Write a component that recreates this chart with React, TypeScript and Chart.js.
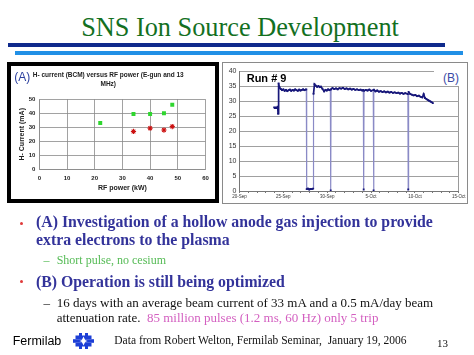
import React, { useEffect, useRef } from "react";
import { Chart, registerables } from "chart.js";

Chart.register(...registerables);

// ---- Chart (A): H- current vs RF power ----
const rfPowerGreen = [22, 34, 40, 45, 48];
const currentGreen = [33, 39.5, 39.5, 40, 46];
const rfPowerRed = [34, 40, 45, 48];
const currentRed = [27, 29.3, 28, 30.5];

// ---- Chart (B): Run # 9, beam current over days since 20-Sep ----
const runDay = [
  3.95, 4.05, 4.15, 4.25, 4.35, 4.4, 4.46,
  4.55, 4.7, 4.85, 5.0, 5.15, 5.3, 5.45, 5.6, 5.75, 5.9, 6.05, 6.2, 6.35, 6.5, 6.65, 6.8, 6.95, 7.1, 7.25, 7.4, 7.55, 7.62,
  7.66, 7.8, 7.95, 8.1, 8.25, 8.4,
  8.44, 8.55, 8.7, 8.85, 9.0, 9.15, 9.28, 9.45, 9.65, 9.8, 9.95, 10.1, 10.25, 10.36,
  10.4,
  10.44, 10.6, 10.8, 11.0, 11.2, 11.4, 11.6, 11.8, 12.0, 12.2, 12.4, 12.6, 12.8, 13.0, 13.2, 13.4, 13.6, 13.8, 14.0, 14.12,
  14.16,
  14.2, 14.4, 14.6, 14.8, 15.0, 15.25,
  15.29,
  15.33, 15.5, 15.7, 15.9, 16.1, 16.3, 16.5, 16.7, 16.9, 17.1, 17.3, 17.5, 17.7, 17.9, 18.1, 18.3, 18.5, 18.7, 18.9, 19.2,
  19.24,
  19.28, 19.45, 19.65, 19.85, 20.05, 20.25, 20.45, 20.65, 20.85, 21.0, 21.15, 21.3, 21.45, 21.6, 21.75, 21.9, 22.05,
];
const runCurrent = [
  27.9, 27.6, 27.8, 27.7, 28.1, 25.8, 35.9,
  34.6, 34.0, 33.6, 33.9, 33.4, 33.7, 33.3, 33.6, 33.8, 33.4, 33.7, 33.5, 33.9, 33.6, 33.4, 33.8, 33.5, 33.7, 33.9, 33.6, 33.8, 33.9,
  0.6, 0.8, 0.5, 0.7, 0.6, 0.8,
  32.4, 35.6, 35.1, 34.7, 35.0, 34.6, 34.8, 34.1, 33.2, 33.7, 33.5, 33.9, 33.6, 33.8,
  0.2,
  33.9, 34.3, 34.0, 34.2, 33.9, 34.3, 34.1, 34.4, 34.0, 34.2, 33.9, 34.1, 33.8, 34.0, 33.7, 33.9, 33.6, 33.8, 33.5, 33.7,
  0.5,
  33.4, 33.7, 33.5, 33.8, 33.4, 33.6,
  0.2,
  33.8, 33.2, 33.5, 33.1, 33.3, 33.0, 33.2, 32.9, 33.1, 32.8, 33.0, 32.7, 32.9, 32.6, 32.8, 32.5, 32.7, 32.4, 32.6, 32.3,
  0.5,
  33.0, 32.4, 32.1, 31.9, 32.0, 31.6, 31.8, 31.4, 31.2, 32.3, 31.0, 30.7, 30.4, 30.1, 29.9, 29.6, 29.3,
];
const dateLabels = ["20-Sep", "25-Sep", "30-Sep", "5-Oct", "10-Oct", "15-Oct"];

const SANS = "'Liberation Sans', Arial, sans-serif";
const SERIF = "'Liberation Serif', 'Times New Roman', serif";

export default function App() {
  const refA = useRef<HTMLCanvasElement>(null);
  const refB = useRef<HTMLCanvasElement>(null);

  useEffect(() => {
    Chart.defaults.font.family = SANS;
    const chartA = new Chart(refA.current!, {
      type: "scatter",
      data: {
        datasets: [
          {
            label: "BCM",
            data: rfPowerGreen.map((x, i) => ({ x, y: currentGreen[i] })),
            pointStyle: "rect",
            pointRadius: 2.8,
            backgroundColor: "#2fd62f",
            borderColor: "#2fd62f",
            borderWidth: 0,
          },
          {
            label: "Red",
            data: rfPowerRed.map((x, i) => ({ x, y: currentRed[i] })),
            pointStyle: "star",
            pointRadius: 2.6,
            backgroundColor: "#cc1111",
            borderColor: "#cc1111",
            borderWidth: 1.1,
          },
        ],
      },
      options: {
        responsive: false,
        animation: false,
        devicePixelRatio: 1,
        layout: { padding: { left: 0, right: 9.5, top: 0, bottom: 0 } },
        plugins: {
          legend: { display: false },
          tooltip: { enabled: false },
          title: {
            display: true,
            text: ["H- current (BCM) versus RF power (E-gun and 13", "MHz)"],
            color: "#222",
            font: { size: 6.5, weight: "bold", family: SANS, lineHeight: 1.25 },
            padding: { top: 5.6, bottom: 11.4 },
          },
        },
        scales: {
          x: {
            type: "linear",
            min: 0,
            max: 60,
            afterFit: (s: any) => { s.height = 29.7; },
            ticks: { stepSize: 10, color: "#222", font: { size: 6, weight: "bold" }, padding: 5, maxRotation: 0 },
            grid: { color: "#8a8a8a", lineWidth: 0.8, drawTicks: false },
            border: { color: "#8a8a8a", width: 0.8 },
            title: {
              display: true,
              text: "RF power (kW)",
              color: "#222",
              font: { size: 7, weight: "bold" },
              padding: { top: 0.3, bottom: 7 },
            },
          },
          y: {
            min: 0,
            max: 50,
            afterFit: (s: any) => { s.width = 28.3; },
            ticks: { stepSize: 10, color: "#222", font: { size: 6, weight: "bold" }, padding: 4 },
            grid: { color: "#8a8a8a", lineWidth: 0.8, drawTicks: false },
            border: { color: "#8a8a8a", width: 0.8 },
            title: {
              display: true,
              text: "H- Current (mA)",
              color: "#222",
              font: { size: 7, weight: "bold" },
              padding: { top: 6.5, bottom: 2 },
            },
          },
        },
      },
    });

    const NAVY = "#17177a";
    const SPIKE = "#8a8ac6";
    const chartB = new Chart(refB.current!, {
      type: "line",
      data: {
        datasets: [
          {
            label: "Run # 9",
            data: runDay.map((x, i) => ({ x, y: runCurrent[i] })),
            borderColor: NAVY,
            backgroundColor: NAVY,
            borderWidth: 1.7,
            pointRadius: 1.3,
            pointStyle: "rect",
            pointBorderWidth: 0,
            tension: 0,
            segment: {
              borderColor: (c: any) => (Math.abs(c.p0.parsed.y - c.p1.parsed.y) > 15 ? SPIKE : NAVY),
              borderWidth: (c: any) => (Math.abs(c.p0.parsed.y - c.p1.parsed.y) > 15 ? 1.2 : 1.7),
            },
          },
        ],
      },
      options: {
        responsive: false,
        animation: false,
        devicePixelRatio: 1,
        layout: { padding: { left: 0, right: 7, top: 8, bottom: 0 } },
        plugins: { legend: { display: false }, tooltip: { enabled: false }, title: { display: false } },
        scales: {
          x: {
            type: "linear",
            min: 0,
            max: 25,
            afterFit: (s: any) => { s.height = 12; },
            ticks: {
              stepSize: 1,
              autoSkip: false,
              maxRotation: 0,
              color: "#333",
              font: { size: 4.5 },
              padding: 1.5,
              callback: (v: any) => (Number(v) % 5 === 0 ? dateLabels[Number(v) / 5] : ""),
            },
            grid: {
              color: (c: any) => (c.tick && c.tick.value === 25 ? "#9a9a9a" : "rgba(0,0,0,0)"),
              tickColor: "#777",
              tickLength: 2,
              lineWidth: 1,
            },
            border: { color: "#777", width: 1 },
          },
          y: {
            min: 0,
            max: 40,
            afterFit: (s: any) => { s.width = 16.5; },
            ticks: { stepSize: 5, color: "#333", font: { size: 7 }, padding: 3 },
            grid: { color: "#a0a0a0", lineWidth: 1, drawTicks: false },
            border: { color: "#777", width: 1 },
          },
        },
      },
    });

    return () => {
      chartA.destroy();
      chartB.destroy();
    };
  }, []);

  const abs = (s: React.CSSProperties): React.CSSProperties => ({ position: "absolute", whiteSpace: "pre", lineHeight: 1, ...s });

  return (
    <div style={{ position: "fixed", left: 0, top: 0, width: 474, height: 355, background: "#fff", overflow: "hidden" }}>
      {/* Title */}
      <div style={abs({ left: 0, width: 480, top: 14.5, textAlign: "center", fontFamily: SERIF, fontSize: 26.3, color: "#13701f" })}>
        SNS Ion Source Development
      </div>
      <div style={{ position: "absolute", left: 7.5, top: 42.8, width: 437.5, height: 4, background: "#0f2a8c" }} />
      <div style={{ position: "absolute", left: 15, top: 50.8, width: 448, height: 4.3, background: "#2190e6" }} />

      {/* Chart A box */}
      <div style={{ position: "absolute", left: 7, top: 62, width: 212, height: 141, border: "4px solid #000", boxSizing: "border-box" }} />
      <canvas ref={refA} width={204} height={133} style={{ position: "absolute", left: 11, top: 66, width: 204, height: 133 }} />
      <div style={abs({ left: 14.3, top: 70.5, fontFamily: SANS, fontSize: 12, color: "#2b3f9e" })}>(A)</div>

      {/* Chart B box */}
      <div style={{ position: "absolute", left: 222, top: 62, width: 246, height: 142, border: "1px solid #8a8a8a", boxSizing: "border-box" }} />
      <canvas ref={refB} width={244} height={140} style={{ position: "absolute", left: 223, top: 63, width: 244, height: 140 }} />
      <div style={abs({ left: 246.7, top: 73.4, fontFamily: SANS, fontSize: 11, fontWeight: "bold", color: "#000" })}>Run # 9</div>
      <div style={{ position: "absolute", left: 434, top: 64, width: 33, height: 22, background: "#fff" }} />
      <div style={abs({ left: 443, top: 71.5, fontFamily: SANS, fontSize: 12, color: "#3a4aa6" })}>(B)</div>

      {/* Bullets */}
      <div style={{ position: "absolute", left: 19.5, top: 221.5, width: 3, height: 3, borderRadius: 1.5, background: "#e03a3a" }} />
      <div style={abs({ left: 36, top: 214, fontFamily: SERIF, fontSize: 15.8, fontWeight: "bold", color: "#33339a" })}>
        (A) Investigation of a hollow anode gas injection to provide
      </div>
      <div style={abs({ left: 36, top: 231.7, fontFamily: SERIF, fontSize: 15.8, fontWeight: "bold", color: "#33339a" })}>
        extra electrons to the plasma
      </div>
      <div style={abs({ left: 43.5, top: 254.2, fontFamily: SERIF, fontSize: 12, color: "#55bb55" })}>–</div>
      <div style={abs({ left: 56.7, top: 254.2, fontFamily: SERIF, fontSize: 12, color: "#55bb55" })}>Short pulse, no cesium</div>

      <div style={{ position: "absolute", left: 19.5, top: 280, width: 3, height: 3, borderRadius: 1.5, background: "#e03a3a" }} />
      <div style={abs({ left: 36, top: 274, fontFamily: SERIF, fontSize: 15.8, fontWeight: "bold", color: "#33339a" })}>
        (B) Operation is still being optimized
      </div>
      <div style={abs({ left: 43.5, top: 296.4, fontFamily: SERIF, fontSize: 13, color: "#111" })}>–</div>
      <div style={abs({ left: 56.7, top: 296.4, fontFamily: SERIF, fontSize: 13, color: "#111" })}>
        16 days with an average beam current of 33 mA and a 0.5 mA/day beam
      </div>
      <div style={abs({ left: 56.7, top: 311.4, fontFamily: SERIF, fontSize: 13, color: "#111" })}>
        {"attenuation rate.  "}
        <span style={{ color: "#d35fc0" }}>85 million pulses (1.2 ms, 60 Hz) only 5 trip</span>
      </div>

      {/* Footer */}
      <div style={abs({ left: 12.7, top: 335.1, fontFamily: SANS, fontSize: 12.5, color: "#000" })}>Fermilab</div>
      <svg style={{ position: "absolute", left: 73, top: 333 }} width={21} height={16} viewBox="0 0 21 16">
        <g fill="#1d3fd6">
          <rect x="6" y="0" width="3" height="3" />
          <rect x="12" y="0" width="3" height="3" />
          <rect x="2.5" y="2.5" width="16" height="3.5" />
          <rect x="0" y="6.2" width="21" height="3.6" />
          <rect x="2.5" y="10" width="16" height="3.5" />
          <rect x="6" y="13" width="3" height="3" />
          <rect x="12" y="13" width="3" height="3" />
        </g>
        <path d="M10.5 3.5 L12.6 8 L10.5 12.5 L8.4 8 Z" fill="#fff" />
        <path d="M6.5 8 L10.5 6.6 L14.5 8 L10.5 9.4 Z" fill="#fff" />
      </svg>
      <div style={abs({ left: 114.3, top: 334.9, fontFamily: SERIF, fontSize: 11.5, color: "#111" })}>
        {"Data from Robert Welton, Fermilab Seminar,  January 19, 2006"}
      </div>
      <div style={abs({ left: 437, top: 337.5, fontFamily: SERIF, fontSize: 11, color: "#111" })}>13</div>
    </div>
  );
}
